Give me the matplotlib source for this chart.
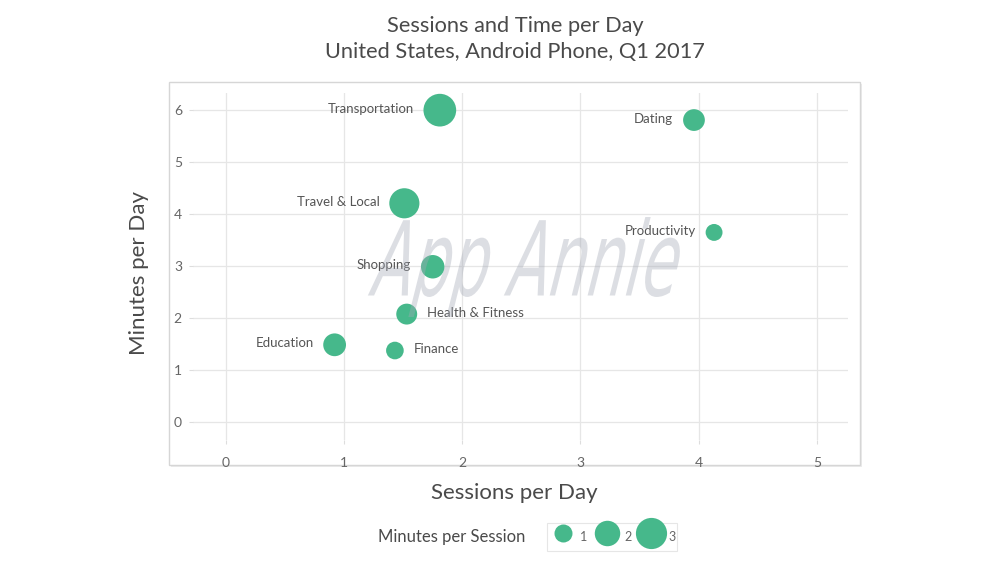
import matplotlib
matplotlib.use("Agg")
import matplotlib.pyplot as plt
from matplotlib.patches import Rectangle, PathPatch
from matplotlib.lines import Line2D
from matplotlib.textpath import TextPath
from matplotlib.font_manager import FontProperties
from matplotlib.transforms import Affine2D
import numpy as np

plt.rcParams['font.family'] = ['Lato', 'DejaVu Sans']

# ---- data ----
categories = ["Transportation", "Dating", "Travel & Local", "Productivity",
              "Shopping", "Health & Fitness", "Education", "Finance"]
sessions_per_day = [1.81, 3.96, 1.51, 4.13, 1.75, 1.53, 0.92, 1.43]
minutes_per_day = [5.99, 5.80, 4.20, 3.64, 2.98, 2.07, 1.48, 1.37]
minutes_per_session = [3.3, 1.46, 2.8, 0.88, 1.7, 1.35, 1.6, 0.96]
label_side = ["left", "left", "left", "left", "left", "right", "left", "right"]
x_ticks = [0, 1, 2, 3, 4, 5]
y_ticks = [0, 1, 2, 3, 4, 5, 6]
legend_sizes = [1, 2, 3]

GREEN = "#46b88b"
TXT = "#555555"

W, H = 1000, 562
fig = plt.figure(figsize=(10, 5.62), dpi=100)

# outer frame box (container)
bx0, bx1, by0, by1 = 169, 860, 82, 465
fig.patches.append(Rectangle((bx0 / W + 0.0015, 1 - by1 / H - 0.003), (bx1 - bx0) / W, (by1 - by0) / H,
                             transform=fig.transFigure, facecolor="#ececec", edgecolor="none", zorder=-3))
fig.patches.append(Rectangle((bx0 / W, 1 - by1 / H), (bx1 - bx0) / W, (by1 - by0) / H,
                             transform=fig.transFigure, facecolor="white", edgecolor="#d6d6d6",
                             linewidth=1.0, zorder=-2))

# inner plot axes
ax_l, ax_r, ax_t, ax_b = 193, 848, 93, 440
ax = fig.add_axes([ax_l / W, 1 - ax_b / H, (ax_r - ax_l) / W, (ax_b - ax_t) / H])
ax.set_facecolor("none")
ax.set_xlim(-0.278, 5.263)
ax.set_ylim(-0.35, 6.32)
for s in ax.spines.values():
    s.set_visible(False)
ax.set_xticks(x_ticks)
ax.set_yticks(y_ticks)
ax.tick_params(axis="both", length=3, color="#dddddd", labelcolor="#666666", labelsize=10)
ax.tick_params(axis="y", pad=5)
ax.tick_params(axis="x", pad=9)
ax.grid(True, color="#e6e6e6", linewidth=0.9)
ax.set_axisbelow(True)

# bubbles: area proportional to minutes per session
s_scale = 168.0
sizes = [s_scale * v for v in minutes_per_session]
ax.scatter(sessions_per_day, minutes_per_day, s=sizes, color=GREEN, edgecolors="none", zorder=3)

for name, x, y, s, side in zip(categories, sessions_per_day, minutes_per_day, sizes, label_side):
    r = np.sqrt(s) / 2.0
    off = r + 7
    if side == "left":
        ax.annotate(name, (x, y), xytext=(-off, 1), textcoords="offset points",
                    ha="right", va="center", fontsize=9.5, color=TXT, zorder=4)
    else:
        ax.annotate(name, (x, y), xytext=(off, 1), textcoords="offset points",
                    ha="left", va="center", fontsize=9.5, color=TXT, zorder=4)

# watermark (condensed, slanted text path placed in pixel coordinates)
tp = TextPath((0, 0), "App Annie", size=1, prop=FontProperties(family="DejaVu Sans"))
v = tp.vertices
x0, x1 = v[:, 0].min(), v[:, 0].max()
y0, y1 = v[:, 1].min(), v[:, 1].max()
wm_left, wm_right, wm_top, wm_bot = 362, 690, 217, 317
sx = (wm_right - wm_left - 25) / (x1 - x0)
sy = (wm_bot - wm_top) / (y1 - y0)
trans = (Affine2D().translate(-x0, -y0).scale(sx, sy).skew_deg(14, 0)
         .translate(wm_left, H - wm_bot))
wm = PathPatch(tp, facecolor="#a4a9b6", edgecolor="none", alpha=0.38, zorder=10)
wm.set_transform(trans)
fig.patches.append(wm)

# titles & axis labels
fig.text(515 / W, 1 - 26 / H, "Sessions and Time per Day", fontsize=15.7, color="#4a4a4a",
         ha="center", va="center")
fig.text(515 / W, 1 - 52 / H, "United States, Android Phone, Q1 2017", fontsize=15.7, color="#4a4a4a",
         ha="center", va="center")
fig.text(514 / W, 1 - 493 / H, "Sessions per Day", fontsize=16, color="#4a4a4a",
         ha="center", va="center")
fig.text(139 / W, 1 - 273 / H, "Minutes per Day", fontsize=16, color="#4a4a4a",
         ha="center", va="center", rotation=90)

# legend
fig.text(452 / W, 1 - 537 / H, "Minutes per Session", fontsize=12, color="#4a4a4a",
         ha="center", va="center")
handles = [Line2D([], [], linestyle="none", marker="o", markersize=np.sqrt(s_scale * v),
                  markerfacecolor=GREEN, markeredgecolor="none") for v in legend_sizes]
leg = fig.legend(handles, [str(v) for v in legend_sizes], ncol=3, loc="center",
                 bbox_to_anchor=(612 / W, 1 - 537 / H), frameon=True, fontsize=9,
                 handletextpad=0.2, columnspacing=0.45, borderpad=0.15, handlelength=2.3,
                 handleheight=2.5, fancybox=False, labelcolor="#666666")
leg.get_frame().set_edgecolor("#e0e0e0")
leg.get_frame().set_linewidth(0.8)

fig.savefig("out.png", dpi=100)
